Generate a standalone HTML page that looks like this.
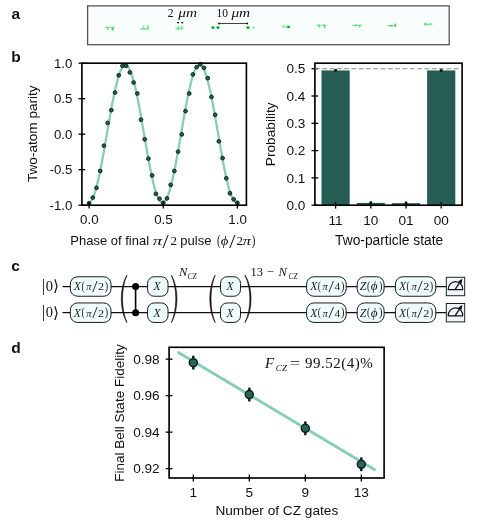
<!DOCTYPE html>
<html lang="en"><head><meta charset="utf-8"><title>Figure</title>
<style>
html,body{margin:0;padding:0;background:#fff;}
body{width:491px;height:520px;overflow:hidden;}
svg{display:block;}
.s{font-family:"Liberation Sans", Arial, Helvetica, sans-serif;fill:#111;}
.m{font-family:"Liberation Serif", "DejaVu Serif", serif;fill:#111;}
.mi{font-family:"Liberation Serif", "DejaVu Serif", serif;font-style:italic;fill:#111;}
.ax{stroke:#000;stroke-width:1.65;fill:none;}
.tk{stroke:#000;stroke-width:1.3;fill:none;}
.w{stroke:#111;stroke-width:1.25;fill:none;}
.gt tspan{fill:#1c1c1c;}
.g{fill:#eefcfb;stroke:#1c1c1c;stroke-width:1;}
</style></head><body>
<svg width="491" height="520" viewBox="0 0 491 520">
<rect width="491" height="520" fill="#fff"/>

<text class="s" x="11.4" y="18.6" font-size="15.5" font-weight="bold">a</text>
<text class="s" x="11.3" y="61.7" font-size="15.5" font-weight="bold">b</text>
<text class="s" x="11.3" y="270.6" font-size="15.5" font-weight="bold">c</text>
<text class="s" x="11.3" y="353.2" font-size="15.5" font-weight="bold">d</text>
<defs><filter id="bl" x="-20%" y="-50%" width="140%" height="200%"><feGaussianBlur stdDeviation="0.45"/></filter></defs>
<rect x="87.6" y="5.9" width="361.6" height="38.8" fill="#f9fdfd" stroke="#555" stroke-width="1.3"/>
<text y="16.6" font-size="11.5" class="m"><tspan x="167.8">2</tspan><tspan x="178.2" class="mi" font-size="12" textLength="18.8" lengthAdjust="spacingAndGlyphs">μm</tspan></text>
<text y="16.6" font-size="11.5" class="m"><tspan x="216.6">10</tspan><tspan x="231.4" class="mi" font-size="12" textLength="18.8" lengthAdjust="spacingAndGlyphs">μm</tspan></text>
<rect x="177.1" y="22.0" width="1.9" height="1.3" fill="#111"/><rect x="181.3" y="22.0" width="1.9" height="1.3" fill="#111"/>
<line x1="219" y1="23.5" x2="247.2" y2="23.5" stroke="#111" stroke-width="0.8"/>
<circle cx="219" cy="23.5" r="0.9" fill="#111"/><circle cx="247.2" cy="23.5" r="0.9" fill="#111"/>
<g filter="url(#bl)">
<rect x="105.3" y="26.8" width="3.6" height="1.5" fill="#2fdc50" opacity="0.70"/>
<rect x="107.2" y="27.8" width="1.5" height="2.4" fill="#2fdc50" opacity="0.62"/>
<rect x="108.9" y="26.9" width="1.6" height="1.1" fill="#2fdc50" opacity="0.35"/>
<rect x="110.6" y="26.8" width="3.8" height="1.5" fill="#2fdc50" opacity="0.74"/>
<rect x="112.3" y="27.8" width="1.6" height="2.9" fill="#2fdc50" opacity="0.70"/>
<circle cx="112.1" cy="29.1" r="0.6" fill="#0a7a2a"/>
</g>
<g filter="url(#bl)">
<rect x="140.4" y="28.3" width="8.8" height="1.5" fill="#2fdc50" opacity="0.66"/>
<rect x="142.8" y="25.5" width="1.5" height="3.0" fill="#2fdc50" opacity="0.62"/>
<rect x="147.2" y="25.3" width="1.6" height="3.2" fill="#2fdc50" opacity="0.70"/>
</g>
<g filter="url(#bl)">
<rect x="175.5" y="27.6" width="7.8" height="1.4" fill="#2fdc50" opacity="0.47"/>
<rect x="177.7" y="25.8" width="1.5" height="4.2" fill="#2fdc50" opacity="0.66"/>
<rect x="180.9" y="26.0" width="1.5" height="3.8" fill="#2fdc50" opacity="0.62"/>
<rect x="175.5" y="29.0" width="2" height="1.2" fill="#2fdc50" opacity="0.47"/>
</g>
<g filter="url(#bl)">
<circle cx="213" cy="27.6" r="1.7" fill="#2fdc50"/><circle cx="218" cy="27.6" r="1.7" fill="#2fdc50"/>
<circle cx="248" cy="27.6" r="1.7" fill="#2fdc50"/><circle cx="253.6" cy="27.6" r="1.3" fill="#8fe9a2"/>
</g>
<circle cx="213" cy="27.6" r="0.8" fill="#064d1a"/><circle cx="218" cy="27.6" r="0.8" fill="#064d1a"/><circle cx="248" cy="27.6" r="0.8" fill="#064d1a"/>
<g filter="url(#bl)">
<rect x="281.8" y="25.8" width="5.0" height="2.0" fill="#2fdc50" opacity="0.43"/>
<rect x="286.6" y="25.5" width="3.6" height="2.6" fill="#2fdc50" opacity="0.74"/>
<rect x="282.4" y="25.0" width="2.5" height="1.2" fill="#2fdc50" opacity="0.31"/>
<circle cx="288.5" cy="27.0" r="1.0" fill="#0a7a2a"/>
</g>
<g filter="url(#bl)">
<rect x="316.9" y="24.5" width="3.6" height="1.5" fill="#2fdc50" opacity="0.70"/>
<rect x="318.8" y="25.5" width="1.5" height="2.4" fill="#2fdc50" opacity="0.62"/>
<rect x="320.5" y="24.6" width="1.6" height="1.1" fill="#2fdc50" opacity="0.35"/>
<rect x="322.2" y="24.5" width="3.8" height="1.5" fill="#2fdc50" opacity="0.74"/>
<rect x="323.9" y="25.5" width="1.6" height="2.9" fill="#2fdc50" opacity="0.70"/>
</g>
<g filter="url(#bl)">
<rect x="352.4" y="24.6" width="9.2" height="1.5" fill="#2fdc50" opacity="0.66"/>
<rect x="358.8" y="25.5" width="1.6" height="2.4" fill="#2fdc50" opacity="0.62"/>
<circle cx="356.0" cy="25.3" r="0.5" fill="#0a7a2a"/>
</g>
<g filter="url(#bl)">
<rect x="387.7" y="25.0" width="9.0" height="1.5" fill="#2fdc50" opacity="0.62"/>
<rect x="394.5" y="23.4" width="1.6" height="3.0" fill="#2fdc50" opacity="0.70"/>
<circle cx="391.1" cy="25.7" r="0.5" fill="#0a7a2a"/>
<circle cx="395.3" cy="25.0" r="0.5" fill="#0a7a2a"/>
</g>
<g filter="url(#bl)">
<rect x="424.1" y="22.9" width="3.4" height="2.6" fill="#2fdc50" opacity="0.70"/>
<rect x="428.9" y="23.3" width="3.6" height="1.6" fill="#2fdc50" opacity="0.62"/>
<rect x="426.8" y="24.1" width="3" height="1.2" fill="#2fdc50" opacity="0.47"/>
</g>
<polyline points="87.02,202.13 87.78,202.49 88.54,202.57 89.30,202.36 90.06,201.87 90.82,201.09 91.58,200.04 92.34,198.72 93.10,197.13 93.86,195.27 94.62,193.16 95.38,190.81 96.14,188.22 96.89,185.40 97.65,182.37 98.41,179.14 99.17,175.73 99.93,172.14 100.69,168.39 101.45,164.50 102.21,160.48 102.97,156.35 103.73,152.13 104.49,147.83 105.25,143.47 106.01,139.08 106.77,134.66 107.52,130.24 108.28,125.84 109.04,121.46 109.80,117.14 110.56,112.89 111.32,108.73 112.08,104.67 112.84,100.72 113.60,96.92 114.36,93.27 115.12,89.79 115.88,86.49 116.64,83.38 117.40,80.49 118.15,77.81 118.91,75.37 119.67,73.17 120.43,71.22 121.19,69.53 121.95,68.10 122.71,66.95 123.47,66.08 124.23,65.48 124.99,65.17 125.75,65.14 126.51,65.40 127.27,65.94 128.03,66.76 128.79,67.85 129.54,69.23 130.30,70.86 131.06,72.76 131.82,74.92 132.58,77.31 133.34,79.94 134.10,82.79 134.86,85.86 135.62,89.12 136.38,92.57 137.14,96.19 137.90,99.96 138.66,103.88 139.42,107.91 140.17,112.06 140.93,116.30 141.69,120.61 142.45,124.97 143.21,129.37 143.97,133.79 144.73,138.21 145.49,142.61 146.25,146.97 147.01,151.28 147.77,155.52 148.53,159.67 149.29,163.71 150.05,167.63 150.80,171.41 151.56,175.03 152.32,178.48 153.08,181.75 153.84,184.82 154.60,187.68 155.36,190.31 156.12,192.72 156.88,194.87 157.64,196.78 158.40,198.43 159.16,199.80 159.92,200.91 160.68,201.74 161.43,202.28 162.19,202.55 162.95,202.53 163.71,202.22 164.47,201.63 165.23,200.76 165.99,199.62 166.75,198.20 167.51,196.52 168.27,194.57 169.03,192.38 169.79,189.94 170.55,187.27 171.31,184.38 172.06,181.29 172.82,177.99 173.58,174.51 174.34,170.87 175.10,167.07 175.86,163.13 176.62,159.07 177.38,154.91 178.14,150.66 178.90,146.34 179.66,141.97 180.42,137.56 181.18,133.14 181.94,128.72 182.70,124.33 183.45,119.97 184.21,115.67 184.97,111.45 185.73,107.32 186.49,103.30 187.25,99.40 188.01,95.65 188.77,92.05 189.53,88.63 190.29,85.40 191.05,82.36 191.81,79.54 192.57,76.95 193.33,74.59 194.08,72.47 194.84,70.61 195.60,69.01 196.36,67.68 197.12,66.62 197.88,65.84 198.64,65.34 199.40,65.13 200.16,65.20 200.92,65.55 201.68,66.19 202.44,67.10 203.20,68.29 203.96,69.76 204.71,71.49 205.47,73.47 206.23,75.71 206.99,78.19 207.75,80.90 208.51,83.82 209.27,86.96 210.03,90.29 210.79,93.79 211.55,97.47 212.31,101.29 213.07,105.25 213.83,109.33 214.59,113.51 215.34,117.77 216.10,122.10 216.86,126.48 217.62,130.89 218.38,135.31 219.14,139.72 219.90,144.11 220.66,148.46 221.42,152.75 222.18,156.96 222.94,161.07 223.70,165.07 224.46,168.94 225.22,172.67 225.97,176.24 226.73,179.63 227.49,182.83 228.25,185.83 229.01,188.61 229.77,191.17 230.53,193.49 231.29,195.56 232.05,197.38 232.81,198.93 233.57,200.21 234.33,201.23 235.09,201.96 235.85,202.41 236.61,202.57 237.36,202.45 238.12,202.05 238.88,201.37" fill="none" stroke="#86cdb6" stroke-width="2.3" stroke-linejoin="round" stroke-linecap="butt"/>
<circle cx="89.10" cy="203.43" r="1.9" fill="#245a4f" stroke="#0d211d" stroke-width="0.9"/>
<circle cx="92.81" cy="197.60" r="1.9" fill="#245a4f" stroke="#0d211d" stroke-width="0.9"/>
<circle cx="96.52" cy="187.81" r="1.9" fill="#245a4f" stroke="#0d211d" stroke-width="0.9"/>
<circle cx="100.22" cy="170.98" r="1.9" fill="#245a4f" stroke="#0d211d" stroke-width="0.9"/>
<circle cx="103.93" cy="145.70" r="1.9" fill="#245a4f" stroke="#0d211d" stroke-width="0.9"/>
<circle cx="107.64" cy="122.91" r="1.9" fill="#245a4f" stroke="#0d211d" stroke-width="0.9"/>
<circle cx="111.34" cy="110.20" r="1.9" fill="#245a4f" stroke="#0d211d" stroke-width="0.9"/>
<circle cx="115.05" cy="92.59" r="1.9" fill="#245a4f" stroke="#0d211d" stroke-width="0.9"/>
<circle cx="118.76" cy="75.27" r="1.9" fill="#245a4f" stroke="#0d211d" stroke-width="0.9"/>
<circle cx="122.47" cy="65.83" r="1.9" fill="#245a4f" stroke="#0d211d" stroke-width="0.9"/>
<circle cx="126.17" cy="65.83" r="1.9" fill="#245a4f" stroke="#0d211d" stroke-width="0.9"/>
<circle cx="129.88" cy="72.43" r="1.9" fill="#245a4f" stroke="#0d211d" stroke-width="0.9"/>
<circle cx="133.59" cy="82.51" r="1.9" fill="#245a4f" stroke="#0d211d" stroke-width="0.9"/>
<circle cx="137.30" cy="93.52" r="1.9" fill="#245a4f" stroke="#0d211d" stroke-width="0.9"/>
<circle cx="141.00" cy="119.72" r="1.9" fill="#245a4f" stroke="#0d211d" stroke-width="0.9"/>
<circle cx="144.71" cy="139.31" r="1.9" fill="#245a4f" stroke="#0d211d" stroke-width="0.9"/>
<circle cx="148.42" cy="158.62" r="1.9" fill="#245a4f" stroke="#0d211d" stroke-width="0.9"/>
<circle cx="152.13" cy="175.38" r="1.9" fill="#245a4f" stroke="#0d211d" stroke-width="0.9"/>
<circle cx="155.84" cy="193.84" r="1.9" fill="#245a4f" stroke="#0d211d" stroke-width="0.9"/>
<circle cx="159.54" cy="198.67" r="1.9" fill="#245a4f" stroke="#0d211d" stroke-width="0.9"/>
<circle cx="163.25" cy="202.79" r="1.9" fill="#245a4f" stroke="#0d211d" stroke-width="0.9"/>
<circle cx="166.96" cy="198.38" r="1.9" fill="#245a4f" stroke="#0d211d" stroke-width="0.9"/>
<circle cx="170.67" cy="184.89" r="1.9" fill="#245a4f" stroke="#0d211d" stroke-width="0.9"/>
<circle cx="174.37" cy="170.98" r="1.9" fill="#245a4f" stroke="#0d211d" stroke-width="0.9"/>
<circle cx="178.08" cy="151.67" r="1.9" fill="#245a4f" stroke="#0d211d" stroke-width="0.9"/>
<circle cx="181.79" cy="134.41" r="1.9" fill="#245a4f" stroke="#0d211d" stroke-width="0.9"/>
<circle cx="185.50" cy="111.12" r="1.9" fill="#245a4f" stroke="#0d211d" stroke-width="0.9"/>
<circle cx="189.20" cy="93.52" r="1.9" fill="#245a4f" stroke="#0d211d" stroke-width="0.9"/>
<circle cx="192.91" cy="74.42" r="1.9" fill="#245a4f" stroke="#0d211d" stroke-width="0.9"/>
<circle cx="196.62" cy="67.18" r="1.9" fill="#245a4f" stroke="#0d211d" stroke-width="0.9"/>
<circle cx="200.32" cy="64.27" r="1.9" fill="#245a4f" stroke="#0d211d" stroke-width="0.9"/>
<circle cx="204.03" cy="67.81" r="1.9" fill="#245a4f" stroke="#0d211d" stroke-width="0.9"/>
<circle cx="207.74" cy="78.18" r="1.9" fill="#245a4f" stroke="#0d211d" stroke-width="0.9"/>
<circle cx="211.45" cy="96.93" r="1.9" fill="#245a4f" stroke="#0d211d" stroke-width="0.9"/>
<circle cx="215.16" cy="114.82" r="1.9" fill="#245a4f" stroke="#0d211d" stroke-width="0.9"/>
<circle cx="218.86" cy="141.30" r="1.9" fill="#245a4f" stroke="#0d211d" stroke-width="0.9"/>
<circle cx="222.57" cy="158.13" r="1.9" fill="#245a4f" stroke="#0d211d" stroke-width="0.9"/>
<circle cx="226.28" cy="178.29" r="1.9" fill="#245a4f" stroke="#0d211d" stroke-width="0.9"/>
<circle cx="229.99" cy="193.27" r="1.9" fill="#245a4f" stroke="#0d211d" stroke-width="0.9"/>
<circle cx="233.69" cy="199.31" r="1.9" fill="#245a4f" stroke="#0d211d" stroke-width="0.9"/>
<circle cx="237.40" cy="202.79" r="1.9" fill="#245a4f" stroke="#0d211d" stroke-width="0.9"/>
<rect class="ax" x="81.9" y="63.2" width="164.5" height="142.0"/>
<line class="tk" x1="78.5" y1="63.2" x2="85.30000000000001" y2="63.2"/>
<text class="s" x="72.4" y="67.8" font-size="13.25" text-anchor="end">1.0</text>
<line class="tk" x1="78.5" y1="98.7" x2="85.30000000000001" y2="98.7"/>
<text class="s" x="72.4" y="103.3" font-size="13.25" text-anchor="end">0.5</text>
<line class="tk" x1="78.5" y1="134.2" x2="85.30000000000001" y2="134.2"/>
<text class="s" x="72.4" y="138.79999999999998" font-size="13.25" text-anchor="end">0.0</text>
<line class="tk" x1="78.5" y1="169.7" x2="85.30000000000001" y2="169.7"/>
<text class="s" x="72.4" y="174.29999999999998" font-size="13.25" text-anchor="end">-0.5</text>
<line class="tk" x1="78.5" y1="205.2" x2="85.30000000000001" y2="205.2"/>
<text class="s" x="72.4" y="209.79999999999998" font-size="13.25" text-anchor="end">-1.0</text>
<line class="tk" x1="89.1" y1="201.79999999999998" x2="89.1" y2="208.6"/>
<text class="s" x="89.3" y="224.39999999999998" font-size="13.3" text-anchor="middle">0.0</text>
<line class="tk" x1="163.25" y1="201.79999999999998" x2="163.25" y2="208.6"/>
<text class="s" x="163.45" y="224.39999999999998" font-size="13.3" text-anchor="middle">0.5</text>
<line class="tk" x1="237.4" y1="201.79999999999998" x2="237.4" y2="208.6"/>
<text class="s" x="237.6" y="224.39999999999998" font-size="13.3" text-anchor="middle">1.0</text>
<text class="s" transform="translate(36.9,133.7) rotate(-90)" font-size="13.6" text-anchor="middle">Two-atom parity</text>
<text class="s" y="244.6" font-size="13"><tspan x="70.3">Phase of final</tspan><tspan class="mi" x="152.8" y="244.6" font-size="12.5" textLength="9.6" lengthAdjust="spacingAndGlyphs">π</tspan><tspan class="m" x="162.6" y="248.0" font-size="18.5" textLength="6.2" lengthAdjust="spacingAndGlyphs">/</tspan><tspan class="m" x="170.5" y="244.6" font-size="11.5" textLength="6.5" lengthAdjust="spacingAndGlyphs">2</tspan><tspan x="180.3" y="244.6">pulse</tspan><tspan class="m" x="216.9" y="245.2" font-size="14" textLength="3.6" lengthAdjust="spacingAndGlyphs">(</tspan><tspan class="mi" x="220.8" y="244.6" font-size="12.5" textLength="7.6" lengthAdjust="spacingAndGlyphs">ϕ</tspan><tspan class="m" x="229.2" y="248.0" font-size="18.5" textLength="6.2" lengthAdjust="spacingAndGlyphs">/</tspan><tspan class="m" x="236.6" y="244.6" font-size="11.5" textLength="6.5" lengthAdjust="spacingAndGlyphs">2</tspan><tspan class="mi" x="242.8" y="244.6" font-size="12.5" textLength="8.2" lengthAdjust="spacingAndGlyphs">π</tspan><tspan class="m" x="251.7" y="245.2" font-size="14" textLength="3.6" lengthAdjust="spacingAndGlyphs">)</tspan></text>
<rect x="321.50" y="70.42" width="28.2" height="134.78" fill="#265e53"/>
<rect x="356.70" y="202.88" width="28.2" height="2.32" fill="#265e53"/>
<rect x="391.90" y="203.15" width="28.2" height="2.05" fill="#265e53"/>
<rect x="427.10" y="70.42" width="28.2" height="134.78" fill="#265e53"/>
<rect x="334.30" y="68.92" width="2.6" height="2.9" fill="#111"/>
<rect x="369.50" y="201.38" width="2.6" height="2.9" fill="#111"/>
<rect x="404.70" y="201.65" width="2.6" height="2.9" fill="#111"/>
<rect x="439.90" y="68.92" width="2.6" height="2.9" fill="#111"/>
<rect class="ax" x="314.9" y="63.2" width="147.20000000000005" height="142.0"/>
<line class="tk" x1="311.5" y1="205.2" x2="318.29999999999995" y2="205.2"/>
<text class="s" x="305.4" y="209.79999999999998" font-size="13.6" text-anchor="end">0.0</text>
<line class="tk" x1="311.5" y1="177.89999999999998" x2="318.29999999999995" y2="177.89999999999998"/>
<text class="s" x="305.4" y="182.49999999999997" font-size="13.6" text-anchor="end">0.1</text>
<line class="tk" x1="311.5" y1="150.6" x2="318.29999999999995" y2="150.6"/>
<text class="s" x="305.4" y="155.2" font-size="13.6" text-anchor="end">0.2</text>
<line class="tk" x1="311.5" y1="123.3" x2="318.29999999999995" y2="123.3"/>
<text class="s" x="305.4" y="127.89999999999999" font-size="13.6" text-anchor="end">0.3</text>
<line class="tk" x1="311.5" y1="95.99999999999999" x2="318.29999999999995" y2="95.99999999999999"/>
<text class="s" x="305.4" y="100.59999999999998" font-size="13.6" text-anchor="end">0.4</text>
<line class="tk" x1="311.5" y1="68.69999999999999" x2="318.29999999999995" y2="68.69999999999999"/>
<text class="s" x="305.4" y="73.29999999999998" font-size="13.6" text-anchor="end">0.5</text>
<line x1="314.9" y1="68.69999999999999" x2="462.1" y2="68.69999999999999" stroke="#8c8c8c" stroke-width="1.1" stroke-dasharray="4.9,2.4"/>
<line class="tk" x1="335.6" y1="201.79999999999998" x2="335.6" y2="208.6"/>
<text class="s" x="335.6" y="224.7" font-size="13.6" text-anchor="middle">11</text>
<line class="tk" x1="370.8" y1="201.79999999999998" x2="370.8" y2="208.6"/>
<text class="s" x="370.8" y="224.7" font-size="13.6" text-anchor="middle">10</text>
<line class="tk" x1="406.0" y1="201.79999999999998" x2="406.0" y2="208.6"/>
<text class="s" x="406.0" y="224.7" font-size="13.6" text-anchor="middle">01</text>
<line class="tk" x1="441.2" y1="201.79999999999998" x2="441.2" y2="208.6"/>
<text class="s" x="441.2" y="224.7" font-size="13.6" text-anchor="middle">00</text>
<text class="s" transform="translate(274.9,134.3) rotate(-90)" font-size="13.7" text-anchor="middle">Probability</text>
<text class="s" x="389.1" y="244.5" font-size="13.8" text-anchor="middle">Two-particle state</text>
<text class="m" x="41.8" y="291.1" font-size="14.5"><tspan font-size="17" dy="-0.6">|</tspan><tspan dy="0.6" dx="0.5">0</tspan><tspan font-size="15.5" dy="0.3">⟩</tspan></text>
<line class="w" x1="62.5" y1="286.5" x2="447" y2="286.5"/>
<text class="m" x="41.8" y="317.3" font-size="14.5"><tspan font-size="17" dy="-0.6">|</tspan><tspan dy="0.6" dx="0.5">0</tspan><tspan font-size="15.5" dy="0.3">⟩</tspan></text>
<line class="w" x1="62.5" y1="312.7" x2="447" y2="312.7"/>
<rect class="g" x="70.3" y="276.75" width="40.7" height="19.5" rx="7.3" ry="7.3"/>
<text class="m gt"><tspan class="mi" font-size="11.5" x="73.87" y="290.40" textLength="7.17" lengthAdjust="spacingAndGlyphs">X</tspan><tspan class="m" font-size="12.7" x="81.51" y="289.60" textLength="3.21" lengthAdjust="spacingAndGlyphs">(</tspan><tspan class="mi" font-size="11.3" x="86.30" y="290.40" textLength="5.29" lengthAdjust="spacingAndGlyphs">π</tspan><tspan class="m" font-size="17.5" x="92.20" y="292.00" textLength="5.36" lengthAdjust="spacingAndGlyphs">/</tspan><tspan class="m" font-size="11.4" x="98.11" y="290.40" textLength="6.10" lengthAdjust="spacingAndGlyphs">2</tspan><tspan class="m" font-size="12.7" x="104.69" y="289.60" textLength="3.46" lengthAdjust="spacingAndGlyphs">)</tspan></text>
<rect class="g" x="147.6" y="276.75" width="20.400000000000006" height="19.5" rx="6.6" ry="6.6"/>
<text class="m gt"><tspan class="mi" font-size="11.5" x="153.57" y="290.40" textLength="7.17" lengthAdjust="spacingAndGlyphs">X</tspan></text>
<rect class="g" x="220.5" y="276.75" width="20.0" height="19.5" rx="6.6" ry="6.6"/>
<text class="m gt"><tspan class="mi" font-size="11.5" x="226.47" y="290.40" textLength="7.17" lengthAdjust="spacingAndGlyphs">X</tspan></text>
<rect class="g" x="306.6" y="276.75" width="39.599999999999966" height="19.5" rx="7.3" ry="7.3"/>
<text class="m gt"><tspan class="mi" font-size="11.5" x="310.17" y="290.40" textLength="7.17" lengthAdjust="spacingAndGlyphs">X</tspan><tspan class="m" font-size="12.7" x="317.81" y="289.60" textLength="3.21" lengthAdjust="spacingAndGlyphs">(</tspan><tspan class="mi" font-size="11.3" x="322.60" y="290.40" textLength="5.29" lengthAdjust="spacingAndGlyphs">π</tspan><tspan class="m" font-size="17.5" x="328.50" y="292.00" textLength="5.36" lengthAdjust="spacingAndGlyphs">/</tspan><tspan class="m" font-size="11.4" x="334.49" y="290.40" textLength="5.73" lengthAdjust="spacingAndGlyphs">4</tspan><tspan class="m" font-size="12.7" x="340.99" y="289.60" textLength="3.46" lengthAdjust="spacingAndGlyphs">)</tspan></text>
<rect class="g" x="357.2" y="276.75" width="26.900000000000034" height="19.5" rx="7.3" ry="7.3"/>
<text class="m gt"><tspan class="mi" font-size="11.5" x="359.68" y="290.40" textLength="6.65" lengthAdjust="spacingAndGlyphs">Z</tspan><tspan class="m" font-size="12.7" x="366.91" y="289.60" textLength="3.21" lengthAdjust="spacingAndGlyphs">(</tspan><tspan class="mi" font-size="11.5" x="370.84" y="290.40" textLength="6.79" lengthAdjust="spacingAndGlyphs">ϕ</tspan><tspan class="m" font-size="12.7" x="378.89" y="289.60" textLength="3.46" lengthAdjust="spacingAndGlyphs">)</tspan></text>
<rect class="g" x="395.4" y="276.75" width="40.400000000000034" height="19.5" rx="7.3" ry="7.3"/>
<text class="m gt"><tspan class="mi" font-size="11.5" x="398.97" y="290.40" textLength="7.17" lengthAdjust="spacingAndGlyphs">X</tspan><tspan class="m" font-size="12.7" x="406.61" y="289.60" textLength="3.21" lengthAdjust="spacingAndGlyphs">(</tspan><tspan class="mi" font-size="11.3" x="411.40" y="290.40" textLength="5.29" lengthAdjust="spacingAndGlyphs">π</tspan><tspan class="m" font-size="17.5" x="417.30" y="292.00" textLength="5.36" lengthAdjust="spacingAndGlyphs">/</tspan><tspan class="m" font-size="11.4" x="423.21" y="290.40" textLength="6.10" lengthAdjust="spacingAndGlyphs">2</tspan><tspan class="m" font-size="12.7" x="429.79" y="289.60" textLength="3.46" lengthAdjust="spacingAndGlyphs">)</tspan></text>
<rect x="446.3" y="277.3" width="18.4" height="18.4" fill="#f0f7fa" stroke="#222" stroke-width="1"/>
<path d="M447.8 289.6 H463 M448.2 289.6 A7.3 8.0 0 0 1 462.8 289.6" fill="none" stroke="#111" stroke-width="1.25"/>
<line x1="455" y1="289.6" x2="460.8" y2="280.9" stroke="#111" stroke-width="1.3"/>
<path d="M462.3 278.7 L461.6 283.5 L458.2 281.2 Z" fill="#111"/>
<rect class="g" x="70.3" y="302.95" width="40.7" height="19.5" rx="7.3" ry="7.3"/>
<text class="m gt"><tspan class="mi" font-size="11.5" x="73.87" y="316.60" textLength="7.17" lengthAdjust="spacingAndGlyphs">X</tspan><tspan class="m" font-size="12.7" x="81.51" y="315.80" textLength="3.21" lengthAdjust="spacingAndGlyphs">(</tspan><tspan class="mi" font-size="11.3" x="86.30" y="316.60" textLength="5.29" lengthAdjust="spacingAndGlyphs">π</tspan><tspan class="m" font-size="17.5" x="92.20" y="318.20" textLength="5.36" lengthAdjust="spacingAndGlyphs">/</tspan><tspan class="m" font-size="11.4" x="98.11" y="316.60" textLength="6.10" lengthAdjust="spacingAndGlyphs">2</tspan><tspan class="m" font-size="12.7" x="104.69" y="315.80" textLength="3.46" lengthAdjust="spacingAndGlyphs">)</tspan></text>
<rect class="g" x="147.6" y="302.95" width="20.400000000000006" height="19.5" rx="6.6" ry="6.6"/>
<text class="m gt"><tspan class="mi" font-size="11.5" x="153.57" y="316.60" textLength="7.17" lengthAdjust="spacingAndGlyphs">X</tspan></text>
<rect class="g" x="220.5" y="302.95" width="20.0" height="19.5" rx="6.6" ry="6.6"/>
<text class="m gt"><tspan class="mi" font-size="11.5" x="226.47" y="316.60" textLength="7.17" lengthAdjust="spacingAndGlyphs">X</tspan></text>
<rect class="g" x="306.6" y="302.95" width="39.599999999999966" height="19.5" rx="7.3" ry="7.3"/>
<text class="m gt"><tspan class="mi" font-size="11.5" x="310.17" y="316.60" textLength="7.17" lengthAdjust="spacingAndGlyphs">X</tspan><tspan class="m" font-size="12.7" x="317.81" y="315.80" textLength="3.21" lengthAdjust="spacingAndGlyphs">(</tspan><tspan class="mi" font-size="11.3" x="322.60" y="316.60" textLength="5.29" lengthAdjust="spacingAndGlyphs">π</tspan><tspan class="m" font-size="17.5" x="328.50" y="318.20" textLength="5.36" lengthAdjust="spacingAndGlyphs">/</tspan><tspan class="m" font-size="11.4" x="334.49" y="316.60" textLength="5.73" lengthAdjust="spacingAndGlyphs">4</tspan><tspan class="m" font-size="12.7" x="340.99" y="315.80" textLength="3.46" lengthAdjust="spacingAndGlyphs">)</tspan></text>
<rect class="g" x="357.2" y="302.95" width="26.900000000000034" height="19.5" rx="7.3" ry="7.3"/>
<text class="m gt"><tspan class="mi" font-size="11.5" x="359.68" y="316.60" textLength="6.65" lengthAdjust="spacingAndGlyphs">Z</tspan><tspan class="m" font-size="12.7" x="366.91" y="315.80" textLength="3.21" lengthAdjust="spacingAndGlyphs">(</tspan><tspan class="mi" font-size="11.5" x="370.84" y="316.60" textLength="6.79" lengthAdjust="spacingAndGlyphs">ϕ</tspan><tspan class="m" font-size="12.7" x="378.89" y="315.80" textLength="3.46" lengthAdjust="spacingAndGlyphs">)</tspan></text>
<rect class="g" x="395.4" y="302.95" width="40.400000000000034" height="19.5" rx="7.3" ry="7.3"/>
<text class="m gt"><tspan class="mi" font-size="11.5" x="398.97" y="316.60" textLength="7.17" lengthAdjust="spacingAndGlyphs">X</tspan><tspan class="m" font-size="12.7" x="406.61" y="315.80" textLength="3.21" lengthAdjust="spacingAndGlyphs">(</tspan><tspan class="mi" font-size="11.3" x="411.40" y="316.60" textLength="5.29" lengthAdjust="spacingAndGlyphs">π</tspan><tspan class="m" font-size="17.5" x="417.30" y="318.20" textLength="5.36" lengthAdjust="spacingAndGlyphs">/</tspan><tspan class="m" font-size="11.4" x="423.21" y="316.60" textLength="6.10" lengthAdjust="spacingAndGlyphs">2</tspan><tspan class="m" font-size="12.7" x="429.79" y="315.80" textLength="3.46" lengthAdjust="spacingAndGlyphs">)</tspan></text>
<rect x="446.3" y="303.5" width="18.4" height="18.4" fill="#f0f7fa" stroke="#222" stroke-width="1"/>
<path d="M447.8 315.8 H463 M448.2 315.8 A7.3 8.0 0 0 1 462.8 315.8" fill="none" stroke="#111" stroke-width="1.25"/>
<line x1="455" y1="315.8" x2="460.8" y2="307.09999999999997" stroke="#111" stroke-width="1.3"/>
<path d="M462.3 304.9 L461.6 309.7 L458.2 307.4 Z" fill="#111"/>
<line x1="135.6" y1="286.5" x2="135.6" y2="312.7" stroke="#000" stroke-width="1.6"/>
<circle cx="135.6" cy="286.5" r="3.5" fill="#000"/><circle cx="135.6" cy="312.7" r="3.5" fill="#000"/>
<path d="M126.7 275.3 C119.50 288.02 119.50 309.68 126.7 322.4 L127.0 322.4 C121.00 309.68 121.00 288.02 127.0 275.3 Z" fill="#111" stroke="#111" stroke-width="0.6" stroke-linejoin="round"/>
<path d="M171.6 275.3 C178.80 288.02 178.80 309.68 171.6 322.4 L171.29999999999998 322.4 C177.30 309.68 177.30 288.02 171.29999999999998 275.3 Z" fill="#111" stroke="#111" stroke-width="0.6" stroke-linejoin="round"/>
<path d="M214.9 275.3 C208.10 288.02 208.10 309.68 214.9 322.4 L215.20000000000002 322.4 C209.60 309.68 209.60 288.02 215.20000000000002 275.3 Z" fill="#111" stroke="#111" stroke-width="0.6" stroke-linejoin="round"/>
<path d="M245.2 275.3 C253.07 288.02 253.07 309.68 245.2 322.4 L244.89999999999998 322.4 C251.57 309.68 251.57 288.02 244.89999999999998 275.3 Z" fill="#111" stroke="#111" stroke-width="0.6" stroke-linejoin="round"/>
<text x="179" y="275.9" font-size="12.5" class="mi">N<tspan font-size="7.2" dx="0.4" dy="3.4">CZ</tspan></text>
<text y="275.9" font-size="12.5" class="m"><tspan x="250.6">13</tspan><tspan x="266.8" textLength="7" lengthAdjust="spacingAndGlyphs">−</tspan><tspan x="278.6" class="mi">N</tspan><tspan class="mi" font-size="7.2" x="288.6" dy="3.4">CZ</tspan></text>
<line x1="177.5" y1="352" x2="375.6" y2="470.3" stroke="#86cdb6" stroke-width="2.8"/>
<line x1="193.3" y1="355.7325" x2="193.3" y2="369.53249999999997" stroke="#0d211d" stroke-width="2.5"/>
<circle cx="193.3" cy="362.63" r="4.0" fill="#28655a" stroke="#0d211d" stroke-width="1.5"/>
<line x1="249.3" y1="387.66999999999996" x2="249.3" y2="401.4699999999999" stroke="#0d211d" stroke-width="2.5"/>
<circle cx="249.3" cy="394.57" r="4.0" fill="#28655a" stroke="#0d211d" stroke-width="1.5"/>
<line x1="305.3" y1="421.43250000000006" x2="305.3" y2="435.2325" stroke="#0d211d" stroke-width="2.5"/>
<circle cx="305.3" cy="428.33" r="4.0" fill="#28655a" stroke="#0d211d" stroke-width="1.5"/>
<line x1="361.3" y1="457.385" x2="361.3" y2="471.18499999999995" stroke="#0d211d" stroke-width="2.5"/>
<circle cx="361.3" cy="464.28" r="4.0" fill="#28655a" stroke="#0d211d" stroke-width="1.5"/>
<rect class="ax" x="169.1" y="347.3" width="215.00000000000003" height="130.7"/>
<line class="tk" x1="165.7" y1="359.15000000000003" x2="172.5" y2="359.15000000000003"/>
<text class="s" x="159.6" y="363.75000000000006" font-size="13.6" text-anchor="end">0.98</text>
<line class="tk" x1="165.7" y1="395.6500000000001" x2="172.5" y2="395.6500000000001"/>
<text class="s" x="159.6" y="400.2500000000001" font-size="13.6" text-anchor="end">0.96</text>
<line class="tk" x1="165.7" y1="432.1500000000001" x2="172.5" y2="432.1500000000001"/>
<text class="s" x="159.6" y="436.7500000000001" font-size="13.6" text-anchor="end">0.94</text>
<line class="tk" x1="165.7" y1="468.6499999999999" x2="172.5" y2="468.6499999999999"/>
<text class="s" x="159.6" y="473.24999999999994" font-size="13.6" text-anchor="end">0.92</text>
<line class="tk" x1="193.3" y1="474.6" x2="193.3" y2="481.4"/>
<text class="s" x="193.3" y="497.1" font-size="13.6" text-anchor="middle">1</text>
<line class="tk" x1="249.3" y1="474.6" x2="249.3" y2="481.4"/>
<text class="s" x="249.3" y="497.1" font-size="13.6" text-anchor="middle">5</text>
<line class="tk" x1="305.3" y1="474.6" x2="305.3" y2="481.4"/>
<text class="s" x="305.3" y="497.1" font-size="13.6" text-anchor="middle">9</text>
<line class="tk" x1="361.3" y1="474.6" x2="361.3" y2="481.4"/>
<text class="s" x="361.3" y="497.1" font-size="13.6" text-anchor="middle">13</text>
<text class="s" transform="translate(124.3,413) rotate(-90)" font-size="13.5" text-anchor="middle">Final Bell State Fidelity</text>
<text class="s" x="276.8" y="515" font-size="13.65" text-anchor="middle">Number of CZ gates</text>
<text y="367.6" font-size="15" class="m"><tspan class="mi" x="265">F</tspan><tspan class="mi" font-size="9" x="275.8" dy="3.4" letter-spacing="0.3">CZ</tspan><tspan dy="-3.4" x="289.8" textLength="10.4" lengthAdjust="spacingAndGlyphs">=</tspan><tspan x="305" textLength="67.8" lengthAdjust="spacing">99.52(4)%</tspan></text>
</svg></body></html>
